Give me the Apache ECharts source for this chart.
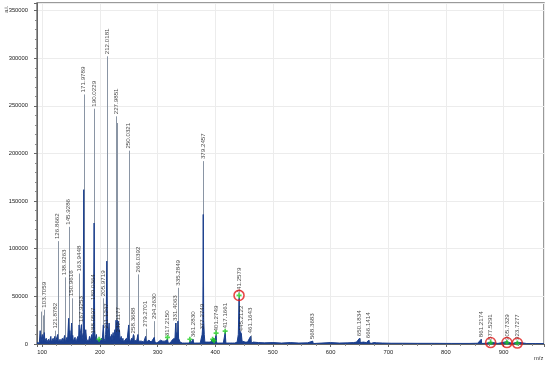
<!DOCTYPE html>
<html><head><meta charset="utf-8">
<script src="https://cdn.jsdelivr.net/npm/echarts@6/dist/echarts.min.js"></script>
<style>html,body{margin:0;padding:0;background:#fff}#c{width:550px;height:367px}</style>
</head><body><div id="c"></div><script>
// Labelled centroid peaks (m/z) and their stick heights (a.i.)
const peakMz = [103.7059,121.8782,126.8662,138.9263,145.9286,150.9616,163.9448,167.9253,171.9789,188.0597,189.0364,190.0229,205.9719,211.1247,212.0181,227.9851,232.1177,250.0321,258.3688,266.0392,279.2701,294.2630,317.2150,331.4063,335.2849,361.2830,377.2749,379.2457,401.2749,417.1661,441.2579,445.2122,461.1643,568.3683,650.1834,666.1414,861.2174,877.5291,905.7329,923.7277];
const peakHeight = [36000,14000,108000,70000,123000,48000,74000,21000,262000,9000,44000,247000,48000,14000,302000,239000,10000,203000,9000,73000,16000,24000,6000,22000,59000,5000,13000,192000,11000,14000,51000,11000,9000,3000,6000,4000,5000,2000,2000,2000];
// Unlabelled sticks
const extraMz = [230.1, 101.5, 98.0];
const extraHeight = [232000, 30000, 34000];
// Profile spectrum [m/z, a.i.]
const profile = [[91,1500],[93,1000],[94,3000],[95,1000],[96.5,14000],[97.5,2000],[99,3000],[100.2,10000],[101,2000],[102.5,3000],[103.7,12000],[104.6,3000],[106,2000],[107,6000],[108,2000],[110,3000],[111,5000],[112,1000],[114,2000],[115,8000],[116,2000],[118,3000],[119,6000],[120,2000],[121.9,8000],[123,2000],[125,3000],[126.9,10000],[128,2000],[130,2000],[131,5000],[132,2000],[134,3000],[135,6000],[136,2000],[137.5,3000],[138.9,9000],[140,2000],[142,3000],[143,7000],[144,3000],[145.9,27000],[147,8000],[148,14000],[149.2,4000],[151,22000],[152,5000],[153,9000],[154,3000],[156,4000],[157,7000],[158,2000],[160,5000],[161,3000],[162,8000],[163,3000],[164,20000],[165,6000],[166,4000],[168,20000],[169,5000],[170,4000],[171,12000],[172,162000],[173,20000],[174,6000],[175.5,15000],[177,4000],[178,6000],[179,2000],[181,4000],[182,8000],[183,3000],[185,5000],[186,10000],[187,3000],[188,12000],[189,15000],[190,127000],[191,15000],[192,5000],[194,10000],[195,3000],[197,5000],[198,3000],[200,5000],[201,2000],[203,6000],[204,3000],[206,20000],[207,6000],[208,8000],[209,3000],[210,10000],[211,22000],[212,87000],[213,15000],[214,6000],[216,22000],[217,5000],[218,8000],[219,3000],[220,10000],[221,4000],[223,12000],[224,5000],[226,15000],[227,8000],[228,25000],[229,10000],[230,25000],[231,8000],[232,24000],[233,10000],[234,15000],[235,4000],[237,8000],[238,3000],[240,6000],[241,2000],[243,4000],[244,2000],[246,6000],[247,3000],[248.5,5000],[250,20000],[251,6000],[252,8000],[253,2000],[255,6000],[256,3000],[258.3,10000],[259.5,3000],[261,5000],[262,2000],[264,4000],[265,3000],[266,10000],[267,3000],[269,5000],[270,2000],[272,3000],[273,1000],[275,4000],[276,2000],[277,3000],[279.3,8000],[280.5,2000],[282,3000],[283,1000],[285,4000],[286,2000],[288,3000],[289,2000],[291,3000],[292,1000],[294.3,7000],[295.5,2000],[298,3000],[299,1000],[301,3000],[302,1000],[305,4000],[306,2000],[309,3000],[310,1000],[313,3000],[314,1000],[317.2,5000],[318.5,1000],[321,3000],[322,1000],[325,4000],[326,2000],[329,6000],[330,3000],[331.4,22000],[332.5,8000],[333.5,12000],[334.5,6000],[335.3,24000],[336.5,6000],[338,4000],[339,2000],[342,3000],[343,1000],[346,3000],[347,1000],[350,2000],[351,1000],[354,3000],[355,1000],[357,4000],[358,1000],[361.3,5000],[362.5,1000],[365,3000],[366,1000],[369,2000],[370,1000],[373,3000],[374,1000],[377.3,10000],[378.5,20000],[379.2,136000],[380,25000],[381,10000],[382,2000],[384,3000],[385,1000],[388,2000],[389,1000],[392,2000],[393,1000],[395,5000],[396,2000],[397,6000],[398,1000],[401.3,9000],[402.5,1000],[405,2000],[406,1000],[409,2000],[410,1000],[413,2000],[414,1000],[417.2,12000],[418.5,1000],[421,2000],[422,1000],[425,2000],[426,1000],[429,2000],[430,1000],[433,2000],[434,1000],[437,3000],[438,2000],[440,10000],[441.3,48000],[442.5,14000],[443.5,12000],[445.2,11000],[446.5,3000],[448,2000],[449,1000],[452,2000],[453,1000],[456,2000],[457,1000],[461.2,8000],[462.5,1000],[466,2000],[467,800],[475,1500],[476,500],[485,1200],[486,500],[500,1500],[501,500],[515,1000],[516,500],[530,1500],[531,500],[545,1000],[546,400],[560,1200],[561,500],[569,3000],[570,500],[585,1000],[586,400],[600,1500],[601,500],[615,1000],[616,400],[630,1200],[631,400],[640,1500],[641,500],[645,2000],[646,800],[650.2,6000],[651,1500],[653,3000],[654,1000],[657,2000],[658,800],[662,1500],[663,800],[666.1,4000],[667,1200],[670,2500],[671,800],[675,1500],[676,600],[680,1200],[681,500],[690,1000],[691,400],[705,800],[706,400],[725,800],[726,400],[750,700],[751,300],[780,700],[781,300],[810,600],[811,300],[840,600],[841,300],[855,800],[856,400],[861.2,5000],[862,500],[870,800],[871,400],[877.5,2000],[878.5,600],[890,600],[891,300],[905.7,2500],[906.7,600],[915,500],[916,300],[923.7,2000],[924.7,500],[940,500],[941,300],[955,500],[956,300],[970,400]];
// Green annotation marks and red circles
const greenMarks = [[198.6,5000],[317.2,7000],[356,5000],[395.5,5000],[398,3500],[401.5,11500],[417.2,13500],[441.3,51000],[877.5,1500],[905.7,1500],[923.7,1000]];
const redCircles = [[441.2579,51000],[877.5291,1500],[905.7329,1500],[923.7277,1000]];

const yTickLabels = ['0','50000','100000','150000','200000','250000','300000','350000'];

const chart = echarts.init(document.getElementById('c'), null, {renderer:'canvas'});
const stickData = peakMz.map((m,i)=>[m, peakHeight[i]]).concat(extraMz.map((m,i)=>[m, extraHeight[i]]));
const font = 'Liberation Sans, Arial, sans-serif';

chart.setOption({
  animation: false,
  grid: {left: 37, top: 3, right: 6, bottom: 23, show: true, borderColor: '#7a7a7a', borderWidth: 1.5, backgroundColor: '#fff'},
  xAxis: {
    type: 'value', min: 91, max: 970, splitNumber: 9,
    axisLine: {show: true, lineStyle: {color: '#666', width: 1}},
    axisTick: {show: true, length: 3, lineStyle: {color: '#666'}},
    minorTick: {show: true, splitNumber: 4, length: 2, lineStyle: {color: '#888'}},
    splitLine: {show: true, lineStyle: {color: '#ececec', width: 1}},
    axisLabel: {showMinLabel: false, showMaxLabel: false, fontSize: 5.8, color: '#222', fontFamily: font, margin: 5}
  },
  yAxis: {
    type: 'value', min: 0, max: 358000, interval: 50000,
    axisLine: {show: true, lineStyle: {color: '#666', width: 1}},
    axisTick: {show: true, length: 3, lineStyle: {color: '#666'}},
    minorTick: {show: true, splitNumber: 5, length: 2, lineStyle: {color: '#888'}},
    splitLine: {show: true, lineStyle: {color: '#ececec', width: 1}},
    axisLabel: {showMaxLabel: false, fontSize: 5.8, color: '#222', fontFamily: font, margin: 9,
      formatter: v => yTickLabels[Math.round(v/50000)] || ''}
  },
  graphic: [
    {type: 'text', left: 4, top: 6, rotation: Math.PI/2, style: {text: 'a.i.', fontSize: 5, fill: '#333', fontFamily: font}},
    {type: 'text', left: 534, top: 355, style: {text: 'm/z', fontSize: 5.8, fill: '#333', fontFamily: font}}
  ],
  series: [
    {
      type: 'custom', z: 2, data: stickData,
      renderItem: (params, api) => {
        const top = api.coord([api.value(0), api.value(1)]);
        const base = api.coord([api.value(0), 0]);
        const x = Math.round(top[0]) + 0.5;
        return {type: 'line', shape: {x1: x, y1: top[1], x2: x, y2: base[1]}, style: {stroke: '#8a95a4', lineWidth: 1}};
      }
    },
    {
      type: 'line', z: 3, data: profile, showSymbol: false, sampling: null,
      lineStyle: {color: '#1b3f8e', width: 1},
      areaStyle: {color: '#1b3f8e', opacity: 1}
    },
    {
      type: 'scatter', z: 4, data: peakMz.map((m,i)=>[m, peakHeight[i]]), symbolSize: 0.1,
      itemStyle: {color: 'rgba(0,0,0,0)'},
      label: {show: true, rotate: 90, position: 'top', distance: 2, align: 'left', verticalAlign: 'middle',
        fontSize: 6.2, color: '#222', fontFamily: font,
        formatter: p => peakMz[p.dataIndex].toFixed(4)}
    },
    {
      type: 'scatter', z: 5, data: greenMarks, symbol: 'path://M2,0H4V2H6V4H4V6H2V4H0V2H2Z', symbolSize: 5,
      itemStyle: {color: '#22d022'}
    },
    {
      type: 'scatter', z: 6, data: redCircles, symbol: 'circle', symbolSize: 10,
      itemStyle: {color: 'rgba(0,0,0,0)', borderColor: '#e01b1b', borderWidth: 1.6}
    }
  ]
});
</script></body></html>
